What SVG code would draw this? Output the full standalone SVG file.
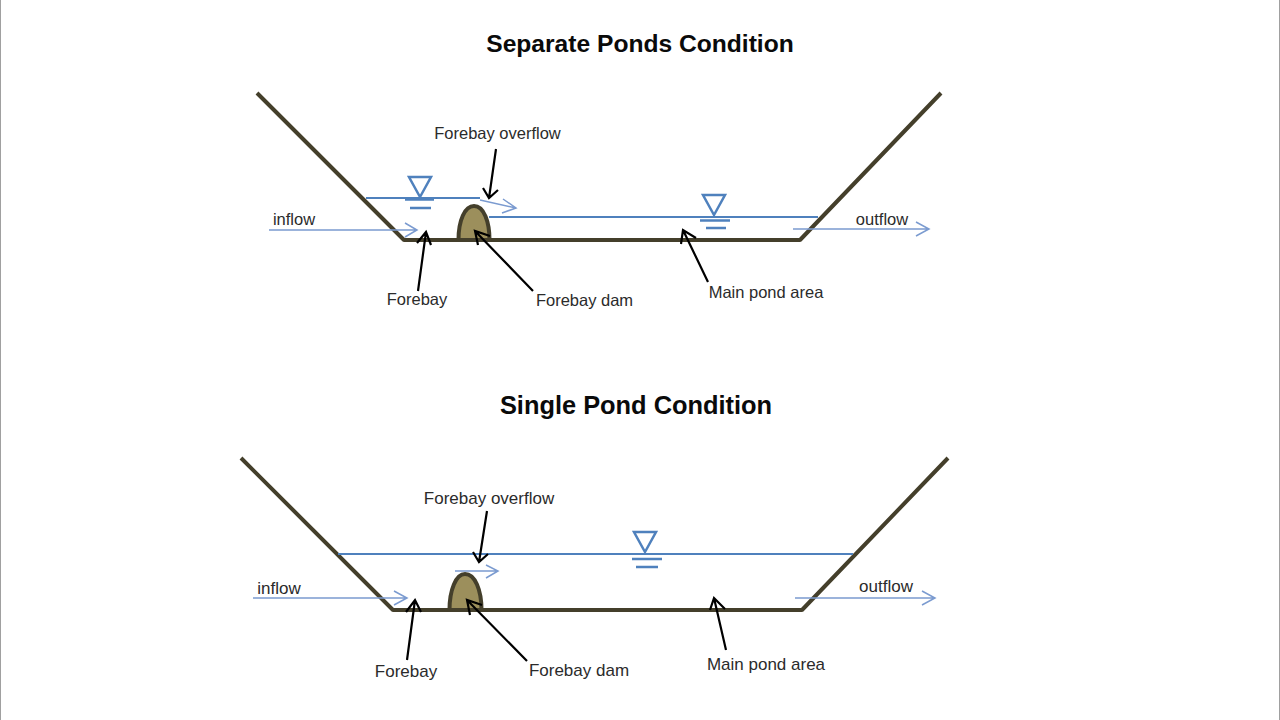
<svg xmlns="http://www.w3.org/2000/svg" width="1280" height="720" viewBox="0 0 1280 720">
<style>
.title{font:bold 24.6px "Liberation Sans",Arial,sans-serif;fill:#0a0a0a;text-anchor:middle}
.title2{font-size:25.4px}
.lbl{font:16.5px "Liberation Sans",Arial,sans-serif;fill:#2b2b2b;text-anchor:middle}
.lbl2{font-size:17px}
.bank{fill:none;stroke:#443f2b;stroke-width:4;stroke-linejoin:bevel}
.water{fill:none;stroke:#4f81bd;stroke-width:2.2}
.sym{fill:none;stroke:#4f81bd;stroke-width:2.5}
.flow{fill:none;stroke:#7b9bd0;stroke-width:1.5}
.ptr{fill:none;stroke:#000;stroke-width:2.2}
.dam{fill:#9c8f5c;stroke:#443f2b;stroke-width:4}
</style>
<rect width="1280" height="720" fill="#fff"/>
<path d="M0.5 0V720M1279.500 0V720" stroke="#a0a0a0" fill="none"/>
<text class="title" x="640" y="52">Separate Ponds Condition</text>
<text class="title title2" x="636" y="414">Single Pond Condition</text>
<g id="basin-top">
<path class="bank" d="M257 93L404 240H800L941 93"/>
<path class="dam" d="M458.500 240C458.500 220 465 206 474 206C484 206 489.500 222 489.500 240Z"/>
</g>
<g id="basin-bottom">
<path class="bank" d="M241 458L393 610H802L948 458"/>
<path class="dam" d="M449.500 610C449.500 590 456 574 465 574C475 574 481.500 590 481.500 610Z"/>
</g>
<g id="water-top">
<path class="water" d="M366 198H480M489 217H818"/>
<path class="sym" d="M409 177H431L420 197ZM405 199.500H434M410 208H431M703 195H725L714 215ZM700 220.500H730M706 228H726"/>
</g>
<g id="water-bottom">
<path class="water" d="M338 554H853"/>
<path class="sym" d="M634 532H656L645 552ZM632 559H662M636 567H658"/>
</g>
<g id="connectors">
<path class="flow" d="M269 230H417M405 223L417 230L405 237M480 200L516 208M503 199L516 208L502 213M793 229H929M916 222L929 229L916 236"/>
<path class="flow" d="M253 598H407M394 591L407 598L394 605M455 571H498M486 565L498 571L486 578M795 598H935M922 591L935 598L922 605"/>
<path class="ptr" d="M496 149L489 198M483 188L489 198L498 190M418 291L426 232M417 243L426 232L431 245M533 291L475 231M478 245L475 231L490 236M708 282L683 230M681 244L683 230L696 238"/>
<path class="ptr" d="M487 511L479 562M473 552L479 562L488 554M407 660L415 600M406 612L415 600L421 612M527 661L467 600M470 615L467 600L482 605M726 650L714 598M710 610L714 598L725 609"/>
</g>
<g id="labels">
<text class="lbl" x="497.500" y="138.500">Forebay overflow</text>
<text class="lbl" x="294" y="224.500">inflow</text>
<text class="lbl" x="882" y="224.500">outflow</text>
<text class="lbl" x="417" y="304.500">Forebay</text>
<text class="lbl" x="584.500" y="305.500">Forebay dam</text>
<text class="lbl" x="766" y="298">Main pond area</text>
<text class="lbl lbl2" x="489" y="503.500">Forebay overflow</text>
<text class="lbl lbl2" x="279" y="593.500">inflow</text>
<text class="lbl lbl2" x="886" y="591.500">outflow</text>
<text class="lbl lbl2" x="406" y="676.500">Forebay</text>
<text class="lbl lbl2" x="579" y="675.500">Forebay dam</text>
<text class="lbl lbl2" x="766" y="669.500">Main pond area</text>
</g>
</svg>
